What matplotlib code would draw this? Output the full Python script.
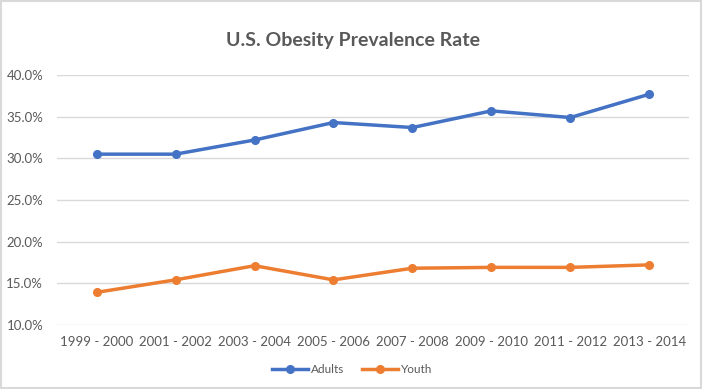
import matplotlib.pyplot as plt
from matplotlib.ticker import PercentFormatter

periods = ["1999 - 2000", "2001 - 2002", "2003 - 2004", "2005 - 2006",
           "2007 - 2008", "2009 - 2010", "2011 - 2012", "2013 - 2014"]
adults = [30.5, 30.5, 32.2, 34.3, 33.7, 35.7, 34.9, 37.7]
youth = [13.9, 15.4, 17.1, 15.4, 16.8, 16.9, 16.9, 17.2]
y_ticks = [10, 15, 20, 25, 30, 35, 40]

BLUE = "#4472C4"
ORANGE = "#ED7D31"
TEXT = "#595959"

plt.rcParams["font.family"] = ["Lato", "DejaVu Sans"]

fig = plt.figure(figsize=(7.05, 3.89), dpi=100)
ax = fig.add_axes([0.081, 0.165, 0.896, 0.642])

x = range(len(periods))
ax.plot(x, adults, color=BLUE, lw=2.5, marker="o", ms=5.5, label="Adults")
ax.plot(x, youth, color=ORANGE, lw=2.5, marker="o", ms=5.5, label="Youth")

ax.set_xlim(-0.5, len(periods) - 0.5)
ax.set_ylim(10, 40)
ax.set_yticks(y_ticks)
ax.yaxis.set_major_formatter(PercentFormatter(decimals=1))
ax.set_xticks(list(x))
ax.set_xticklabels(periods)
ax.grid(axis="y", color="#D9D9D9", lw=1)
ax.set_axisbelow(True)
for s in ax.spines.values():
    s.set_visible(False)
ax.tick_params(length=0, colors=TEXT, labelsize=9.5, pad=8)
ax.tick_params(axis="y", pad=10)

fig.text(0.5, 0.895, "U.S. Obesity Prevalence Rate", ha="center", va="center",
         fontsize=14, fontweight="bold", color=TEXT)

fig.legend(loc="center", bbox_to_anchor=(0.5, 0.05), ncol=2, frameon=False,
           fontsize=8.5, labelcolor=TEXT, handlelength=3, columnspacing=1.5,
           handletextpad=0.3)

fig.patches.append(plt.Rectangle((0.002, 0.003), 0.992, 0.994, transform=fig.transFigure,
                                 fill=False, edgecolor="#D9D9D9", lw=1.5))

fig.savefig("out.png", dpi=100)
